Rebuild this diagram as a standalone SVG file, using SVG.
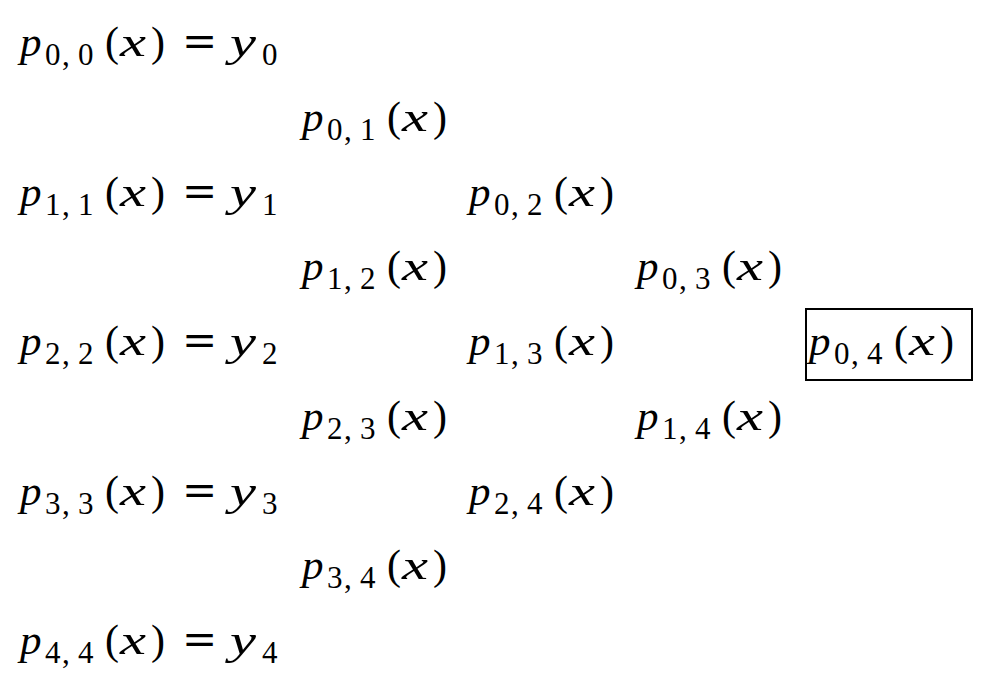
<svg xmlns="http://www.w3.org/2000/svg" width="996" height="690" viewBox="0 0 996 690">
<style>
.v{font-family:"Liberation Serif",serif;font-style:italic;font-size:43px}
.n{font-family:"Liberation Serif",serif;font-size:42px}
.e{font-family:"DejaVu Serif",serif;font-size:42px}
.s{font-family:"Liberation Serif",serif;font-size:31px}
.box{fill:none;stroke:#000;stroke-width:2}
</style>
<rect width="996" height="690" fill="#fff"/>
<g id="nodes">
<g id="p00" transform="translate(21,56)"><text class="n"><tspan class="v" x="-1" y="0">p</tspan><tspan class="s" x="24" y="9">0</tspan><tspan class="s" x="41" y="9">,</tspan><tspan class="s" x="57" y="9">0</tspan><tspan class="n" x="84" y="0">(</tspan><tspan class="v" x="99" y="0" textLength="26" lengthAdjust="spacingAndGlyphs">x</tspan><tspan class="n" x="130" y="0">)</tspan><tspan class="e" x="161" y="0">=</tspan><tspan class="v" x="209" y="0" textLength="26" lengthAdjust="spacingAndGlyphs">y</tspan><tspan class="s" x="241" y="9">0</tspan></text></g>
<g id="p11" transform="translate(21,205.5)"><text class="n"><tspan class="v" x="-1" y="0">p</tspan><tspan class="s" x="24" y="9">1</tspan><tspan class="s" x="41" y="9">,</tspan><tspan class="s" x="57" y="9">1</tspan><tspan class="n" x="84" y="0">(</tspan><tspan class="v" x="99" y="0" textLength="26" lengthAdjust="spacingAndGlyphs">x</tspan><tspan class="n" x="130" y="0">)</tspan><tspan class="e" x="161" y="0">=</tspan><tspan class="v" x="209" y="0" textLength="26" lengthAdjust="spacingAndGlyphs">y</tspan><tspan class="s" x="241" y="9">1</tspan></text></g>
<g id="p22" transform="translate(21,355)"><text class="n"><tspan class="v" x="-1" y="0">p</tspan><tspan class="s" x="24" y="9">2</tspan><tspan class="s" x="41" y="9">,</tspan><tspan class="s" x="57" y="9">2</tspan><tspan class="n" x="84" y="0">(</tspan><tspan class="v" x="99" y="0" textLength="26" lengthAdjust="spacingAndGlyphs">x</tspan><tspan class="n" x="130" y="0">)</tspan><tspan class="e" x="161" y="0">=</tspan><tspan class="v" x="209" y="0" textLength="26" lengthAdjust="spacingAndGlyphs">y</tspan><tspan class="s" x="241" y="9">2</tspan></text></g>
<g id="p33" transform="translate(21,504.5)"><text class="n"><tspan class="v" x="-1" y="0">p</tspan><tspan class="s" x="24" y="9">3</tspan><tspan class="s" x="41" y="9">,</tspan><tspan class="s" x="57" y="9">3</tspan><tspan class="n" x="84" y="0">(</tspan><tspan class="v" x="99" y="0" textLength="26" lengthAdjust="spacingAndGlyphs">x</tspan><tspan class="n" x="130" y="0">)</tspan><tspan class="e" x="161" y="0">=</tspan><tspan class="v" x="209" y="0" textLength="26" lengthAdjust="spacingAndGlyphs">y</tspan><tspan class="s" x="241" y="9">3</tspan></text></g>
<g id="p44" transform="translate(21,654)"><text class="n"><tspan class="v" x="-1" y="0">p</tspan><tspan class="s" x="24" y="9">4</tspan><tspan class="s" x="41" y="9">,</tspan><tspan class="s" x="57" y="9">4</tspan><tspan class="n" x="84" y="0">(</tspan><tspan class="v" x="99" y="0" textLength="26" lengthAdjust="spacingAndGlyphs">x</tspan><tspan class="n" x="130" y="0">)</tspan><tspan class="e" x="161" y="0">=</tspan><tspan class="v" x="209" y="0" textLength="26" lengthAdjust="spacingAndGlyphs">y</tspan><tspan class="s" x="241" y="9">4</tspan></text></g>

<g id="p01" transform="translate(303,130.75)"><text class="n"><tspan class="v" x="-1" y="0">p</tspan><tspan class="s" x="24" y="9">0</tspan><tspan class="s" x="41" y="9">,</tspan><tspan class="s" x="57" y="9">1</tspan><tspan class="n" x="84" y="0">(</tspan><tspan class="v" x="99" y="0" textLength="26" lengthAdjust="spacingAndGlyphs">x</tspan><tspan class="n" x="130" y="0">)</tspan></text></g>
<g id="p12" transform="translate(303,280.25)"><text class="n"><tspan class="v" x="-1" y="0">p</tspan><tspan class="s" x="24" y="9">1</tspan><tspan class="s" x="41" y="9">,</tspan><tspan class="s" x="57" y="9">2</tspan><tspan class="n" x="84" y="0">(</tspan><tspan class="v" x="99" y="0" textLength="26" lengthAdjust="spacingAndGlyphs">x</tspan><tspan class="n" x="130" y="0">)</tspan></text></g>
<g id="p23" transform="translate(303,429.75)"><text class="n"><tspan class="v" x="-1" y="0">p</tspan><tspan class="s" x="24" y="9">2</tspan><tspan class="s" x="41" y="9">,</tspan><tspan class="s" x="57" y="9">3</tspan><tspan class="n" x="84" y="0">(</tspan><tspan class="v" x="99" y="0" textLength="26" lengthAdjust="spacingAndGlyphs">x</tspan><tspan class="n" x="130" y="0">)</tspan></text></g>
<g id="p34" transform="translate(303,579.25)"><text class="n"><tspan class="v" x="-1" y="0">p</tspan><tspan class="s" x="24" y="9">3</tspan><tspan class="s" x="41" y="9">,</tspan><tspan class="s" x="57" y="9">4</tspan><tspan class="n" x="84" y="0">(</tspan><tspan class="v" x="99" y="0" textLength="26" lengthAdjust="spacingAndGlyphs">x</tspan><tspan class="n" x="130" y="0">)</tspan></text></g>

<g id="p02" transform="translate(470,205.5)"><text class="n"><tspan class="v" x="-1" y="0">p</tspan><tspan class="s" x="24" y="9">0</tspan><tspan class="s" x="41" y="9">,</tspan><tspan class="s" x="57" y="9">2</tspan><tspan class="n" x="84" y="0">(</tspan><tspan class="v" x="99" y="0" textLength="26" lengthAdjust="spacingAndGlyphs">x</tspan><tspan class="n" x="130" y="0">)</tspan></text></g>
<g id="p13" transform="translate(470,355)"><text class="n"><tspan class="v" x="-1" y="0">p</tspan><tspan class="s" x="24" y="9">1</tspan><tspan class="s" x="41" y="9">,</tspan><tspan class="s" x="57" y="9">3</tspan><tspan class="n" x="84" y="0">(</tspan><tspan class="v" x="99" y="0" textLength="26" lengthAdjust="spacingAndGlyphs">x</tspan><tspan class="n" x="130" y="0">)</tspan></text></g>
<g id="p24" transform="translate(470,504.5)"><text class="n"><tspan class="v" x="-1" y="0">p</tspan><tspan class="s" x="24" y="9">2</tspan><tspan class="s" x="41" y="9">,</tspan><tspan class="s" x="57" y="9">4</tspan><tspan class="n" x="84" y="0">(</tspan><tspan class="v" x="99" y="0" textLength="26" lengthAdjust="spacingAndGlyphs">x</tspan><tspan class="n" x="130" y="0">)</tspan></text></g>

<g id="p03" transform="translate(638,280.25)"><text class="n"><tspan class="v" x="-1" y="0">p</tspan><tspan class="s" x="24" y="9">0</tspan><tspan class="s" x="41" y="9">,</tspan><tspan class="s" x="57" y="9">3</tspan><tspan class="n" x="84" y="0">(</tspan><tspan class="v" x="99" y="0" textLength="26" lengthAdjust="spacingAndGlyphs">x</tspan><tspan class="n" x="130" y="0">)</tspan></text></g>
<g id="p14" transform="translate(638,429.75)"><text class="n"><tspan class="v" x="-1" y="0">p</tspan><tspan class="s" x="24" y="9">1</tspan><tspan class="s" x="41" y="9">,</tspan><tspan class="s" x="57" y="9">4</tspan><tspan class="n" x="84" y="0">(</tspan><tspan class="v" x="99" y="0" textLength="26" lengthAdjust="spacingAndGlyphs">x</tspan><tspan class="n" x="130" y="0">)</tspan></text></g>

<g id="p04"><rect class="box" x="806" y="309" width="166" height="71"/><g transform="translate(810,355)"><text class="n"><tspan class="v" x="-1" y="0">p</tspan><tspan class="s" x="24" y="9">0</tspan><tspan class="s" x="41" y="9">,</tspan><tspan class="s" x="57" y="9">4</tspan><tspan class="n" x="84" y="0">(</tspan><tspan class="v" x="99" y="0" textLength="26" lengthAdjust="spacingAndGlyphs">x</tspan><tspan class="n" x="130" y="0">)</tspan></text></g></g>
</g>
<g id="connectors"></g>
</svg>
